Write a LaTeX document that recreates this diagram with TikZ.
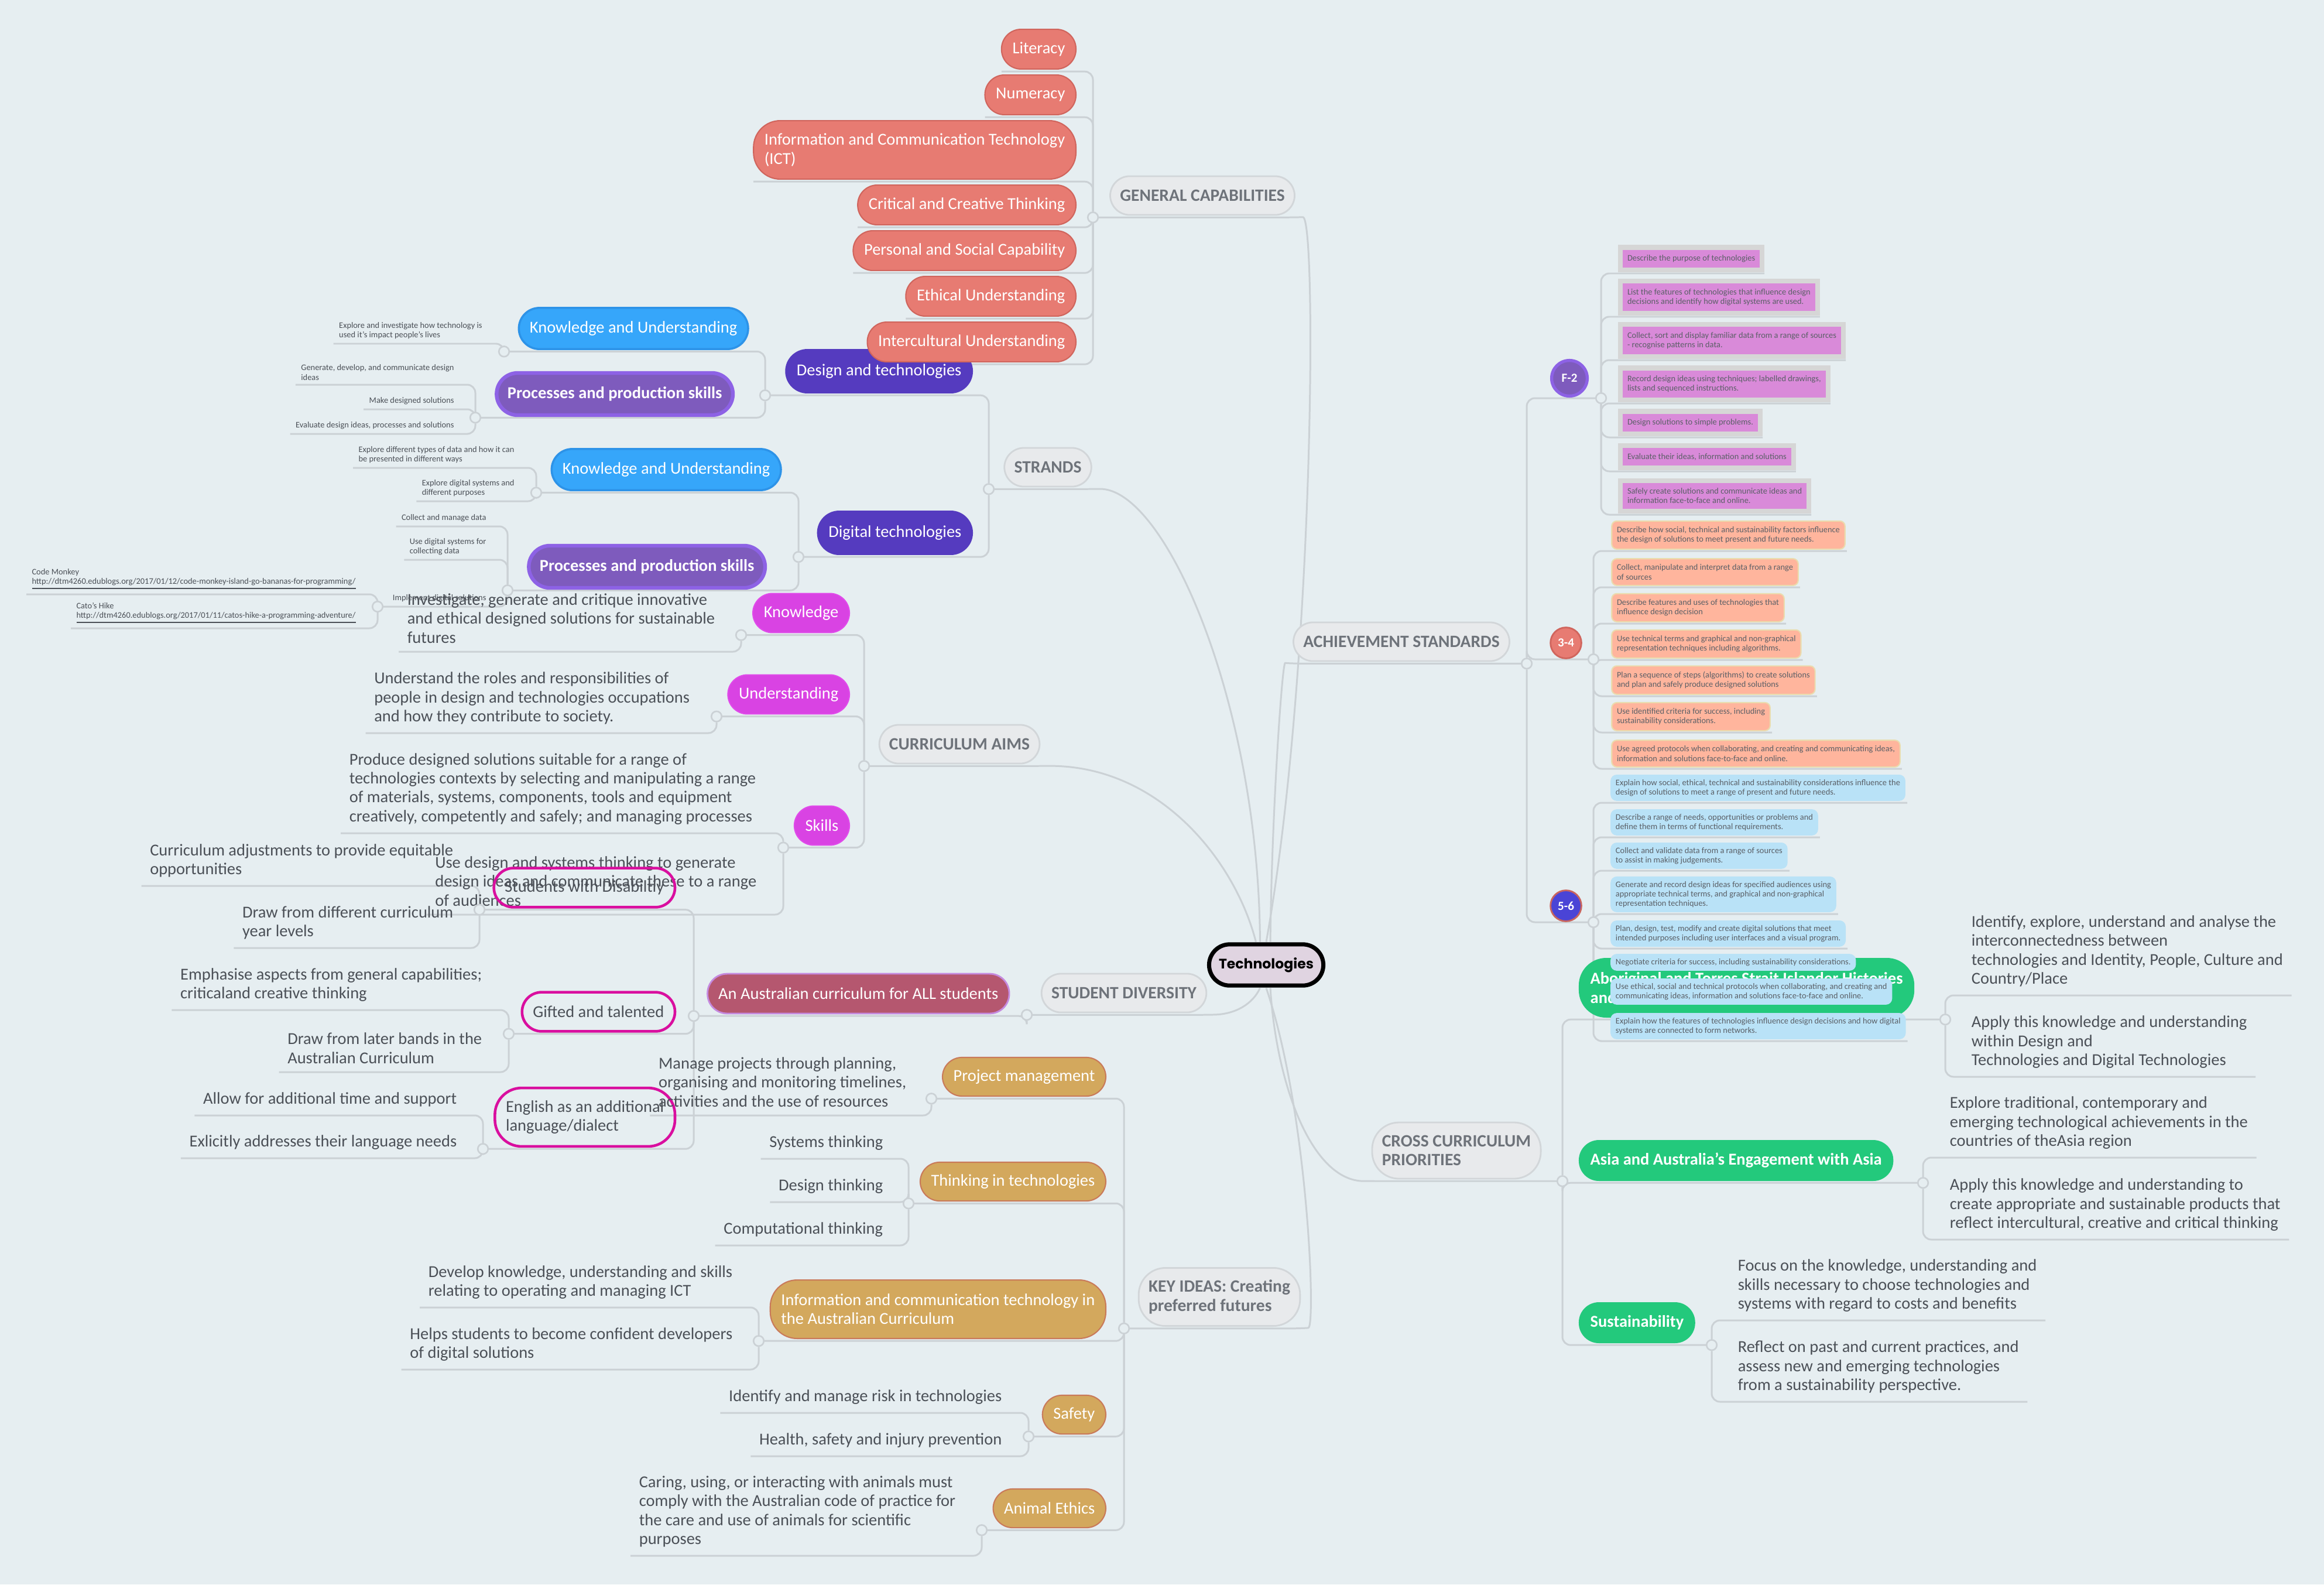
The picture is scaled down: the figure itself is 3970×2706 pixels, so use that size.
\documentclass[tikz,border=0pt]{standalone}
\usepackage{fontspec}
\setmainfont{Carlito}
\newfontfamily\rootfont{Poppins}
\usepackage{xcolor}
\usetikzlibrary{calc}
\definecolor{pagebg}{HTML}{E6EEF1}
\definecolor{linkgray}{HTML}{CBD1D5}
\definecolor{branchfill}{HTML}{E8EAEC}
\definecolor{branchline}{HTML}{D2D6D9}
\definecolor{branchtext}{HTML}{6E737A}
\definecolor{leaftext}{HTML}{4B5057}
\definecolor{achtext}{HTML}{5A5F66}
\definecolor{rootfill}{HTML}{E0D4E1}
\definecolor{capfill}{HTML}{E77B72}
\definecolor{capline}{HTML}{D0655D}
\definecolor{techfill}{HTML}{553BBF}
\definecolor{knowfill}{HTML}{36A6FA}
\definecolor{knowline}{HTML}{2D93E8}
\definecolor{procfill}{HTML}{7E5BBD}
\definecolor{procline}{HTML}{8D62E5}
\definecolor{aimfill}{HTML}{D943E3}
\definecolor{aimline}{HTML}{E04AEA}
\definecolor{allfill}{HTML}{B5576F}
\definecolor{allline}{HTML}{C58ADF}
\definecolor{needline}{HTML}{D90F9F}
\definecolor{keyfill}{HTML}{D3A85D}
\definecolor{keyline}{HTML}{C97A5A}
\definecolor{ccpfill}{HTML}{23C97C}
\definecolor{fframe}{HTML}{D6D6D6}
\definecolor{fpink}{HTML}{D98AD9}
\definecolor{tpeach}{HTML}{FFB59D}
\definecolor{tline}{HTML}{EADCAE}
\definecolor{sblue}{HTML}{B9E2F7}
\definecolor{bandblue}{HTML}{4A44D6}
\definecolor{bandline}{HTML}{C9645E}

\newcommand{\midfont}{\fontsize{8.1}{9.2}\selectfont}
\newcommand{\midbold}{\fontsize{8.1}{9.2}\selectfont\bfseries}
\newcommand{\branchfont}{\fontsize{8.4}{9.2}\selectfont\bfseries}
\newcommand{\smallfont}{\fontsize{4.1}{4.6}\selectfont}
\newcommand{\bandfont}{\fontsize{6}{7}\selectfont\bfseries}

% connectors: left / right leaves, and sub-branches ending in their own knob
\newcommand{\lleaf}[2]{\draw[link] (#1) |- (#2.south east) -- (#2.south west);}
\newcommand{\rleaf}[2]{\draw[link] (#1) |- (#2.south west) -- (#2.south east);}
\newcommand{\lsub}[3]{\draw[link] (#1) |- (#2.south east) -- (#3);}
\newcommand{\rsub}[3]{\draw[link] (#1) |- (#2.south west) -- (#3);}

\pgfdeclarelayer{background}
\pgfdeclarelayer{links}
\pgfsetlayers{background,links,main}

\tikzset{
  link/.style={draw=linkgray, line width=0.85pt, rounded corners=4pt},
  knob/.style={circle, draw=linkgray, fill=pagebg, line width=0.75pt, inner sep=0pt, minimum size=5pt},
  pill/.style={rounded corners=9.5pt, minimum height=19.3pt, inner xsep=5.3pt, inner ysep=1pt,
               outer xsep=0pt, outer ysep=1.2pt, line width=0.6pt, text=white, font=\midfont, align=left},
  twoline/.style={minimum height=28.4pt, rounded corners=13pt},
  rootbox/.style={pill, fill=rootfill, draw=black, line width=2pt, text=black,
                  font=\rootfont\bfseries\fontsize{6.7}{8}\selectfont, minimum height=20pt,
                  minimum width=55.5pt, inner xsep=4pt, rounded corners=10pt},
  branch/.style={pill, fill=branchfill, draw=branchline, line width=0.8pt, text=branchtext,
                 font=\branchfont, minimum height=18.8pt, inner xsep=4.8pt},
  capbox/.style={pill, anchor=east, fill=capfill, draw=capline},
  techbox/.style={pill, anchor=east, fill=techfill, draw=techfill, minimum height=21pt, rounded corners=10.5pt},
  knowbox/.style={pill, anchor=east, fill=knowfill, draw=knowline, line width=1pt, minimum height=20pt, rounded corners=10pt},
  procbox/.style={pill, anchor=east, fill=procfill, draw=procline, line width=1.8pt, font=\midbold,
                  minimum height=20.5pt, rounded corners=10.25pt},
  aimbox/.style={pill, anchor=east, fill=aimfill, draw=aimline, minimum height=19pt},
  allbox/.style={pill, anchor=east, fill=allfill, draw=allline, line width=0.8pt},
  needbox/.style={pill, anchor=east, draw=needline, line width=1.3pt, text=leaftext, minimum height=19pt},
  keybox/.style={pill, anchor=east, fill=keyfill, draw=keyline, minimum height=18.8pt},
  ccpbox/.style={pill, anchor=west, fill=ccpfill, draw=ccpfill, font=\midbold},
  band/.style={circle, text=white, font=\bandfont, inner sep=0pt},
  fbox/.style={anchor=south west, fill=fpink, draw=fframe, line width=2.3pt, text=achtext, font=\smallfont,
               align=left, inner xsep=3.4pt, inner ysep=3.7pt, outer xsep=1.15pt, outer ysep=1.7pt},
  tbox/.style={anchor=south west, fill=tpeach, draw=tline, line width=0.6pt, rounded corners=2.5pt,
               text=achtext, font=\smallfont, align=left, inner xsep=2.5pt, inner ysep=2.75pt, outer sep=0.9pt},
  sbox/.style={anchor=south west, fill=sblue, rounded corners=3pt, text=achtext, font=\smallfont,
               align=left, inner xsep=2.5pt, inner ysep=2.3pt, outer sep=0.9pt},
  leafL/.style={anchor=south east, align=left, text=leaftext, font=\midfont, inner xsep=4pt, inner ysep=4pt},
  leafR/.style={leafL, anchor=south west},
  tinyL/.style={leafL, font=\smallfont, inner xsep=2.5pt, inner ysep=2pt},
}

\begin{document}
\begin{tikzpicture}[x=0.01cm, y=0.01cm]
\useasboundingbox (0,0) rectangle (3970,-2706);
\begin{pgfonlayer}{background}
  \fill[pagebg] (0,0) rectangle (3970,-2706);
\end{pgfonlayer}

\node[rootbox] (tech) at (2163,-1648) {Technologies};

% ---- strands
\node[branch] (strands) at (1790,-798) {STRANDS};
\node[techbox] (dt) at (1661,-634) {Design and technologies};
\node[techbox] (dig) at (1661,-910) {Digital technologies};
\node[knowbox] (ku1) at (1278,-561) {Knowledge and Understanding};
\node[procbox] (pp1) at (1252,-673) {Processes and production skills};
\node[knowbox] (ku2) at (1334,-802) {Knowledge and Understanding};
\node[procbox] (pp2) at (1307,-968) {Processes and production skills};
\node[tinyL] (ku1a) at (833,-587) {Explore and investigate how technology is\\used it's impact people's lives};
\node[tinyL] (pp1a) at (785,-657) {Generate, develop, and communicate design\\ideas};
\node[tinyL] (pp1b) at (785,-699) {Make designed solutions};
\node[tinyL] (pp1c) at (785,-741) {Evaluate design ideas, processes and solutions};
\node[tinyL] (ku2a) at (888,-799) {Explore different types of data and how it can\\be presented in different ways};
\node[tinyL] (ku2b) at (888,-856) {Explore digital systems and\\different purposes};
\node[tinyL] (pp2a) at (840,-899) {Collect and manage data};
\node[tinyL] (pp2b) at (840,-956) {Use digital systems for\\collecting data};
\node[tinyL] (impl) at (840,-1036) {Implement digital solutions};
\node[tinyL] (monkey) at (617,-1015) {Code Monkey\\\underline{http://dtm4260.edublogs.org/2017/01/12/code-monkey-island-go-bananas-for-programming/}};
\node[tinyL] (cato) at (617,-1073) {Cato's Hike\\\underline{http://dtm4260.edublogs.org/2017/01/11/catos-hike-a-programming-adventure/}};

% ---- general capabilities
\node[branch] (gc) at (2054,-334) {GENERAL CAPABILITIES};
\node[capbox] (lit) at (1838,-84) {Literacy};
\node[capbox] (num) at (1838,-162) {Numeracy};
\node[capbox, twoline] (ict) at (1838,-256) {Information and Communication Technology\\(ICT)};
\node[capbox] (crit) at (1838,-350) {Critical and Creative Thinking};
\node[capbox] (pers) at (1838,-428) {Personal and Social Capability};
\node[capbox] (ethic) at (1838,-506) {Ethical Understanding};
\node[capbox] (inter) at (1838,-584) {Intercultural Understanding};

% ---- curriculum aims
\node[branch] (aims) at (1639,-1271) {CURRICULUM AIMS};
\node[aimbox] (know) at (1451,-1047) {Knowledge};
\node[aimbox] (under) at (1451,-1186) {Understanding};
\node[aimbox] (skills) at (1451,-1410) {Skills};
\node[leafL] (inv) at (1236,-1113) {Investigate, generate and critique innovative\\and ethical designed solutions for sustainable\\futures};
\node[leafL] (und) at (1193,-1252) {Understand the roles and responsibilities of\\people in design and technologies occupations\\and how they contribute to society.};
\node[leafL] (prod) at (1306,-1423) {Produce designed solutions suitable for a range of\\technologies contexts by selecting and manipulating a range\\of materials, systems, components, tools and equipment\\creatively, competently and safely; and managing processes};
\node[leafL] (usd) at (1307,-1562) {Use design and systems thinking to generate\\design ideas and communicate these to a range\\of audiences};

% ---- student diversity
\node[branch] (div) at (1920,-1696) {STUDENT DIVERSITY};
\node[allbox] (aus) at (1724,-1697) {An Australian curriculum for ALL students};
\node[needbox] (swd) at (1153,-1516) {Students with Disabiltiy};
\node[needbox] (gift) at (1153,-1728) {Gifted and talented};
\node[needbox, twoline] (eal) at (1153,-1908) {English as an additional\\language/dialect};
\node[leafL] (swda) at (789,-1513) {Curriculum adjustments to provide equitable\\opportunities};
\node[leafL] (swdb) at (789,-1619) {Draw from different curriculum\\year levels};
\node[leafL] (gifa) at (838,-1725) {Emphasise aspects from general capabilities;\\criticaland creative thinking};
\node[leafL] (gifb) at (838,-1831) {Draw from later bands in the\\Australian Curriculum};
\node[leafL] (eala) at (795,-1905) {Allow for additional time and support};
\node[leafL] (ealb) at (795,-1978) {Exlicitly addresses their language needs};

% ---- key ideas
\node[branch, minimum height=28.2pt, rounded corners=13pt] (keys) at (2083,-2215) {KEY IDEAS: Creating\\preferred futures};
\node[keybox] (proj) at (1889,-1839) {Project management};
\node[keybox] (think) at (1889,-2018) {Thinking in technologies};
\node[keybox, twoline] (ictc) at (1889,-2236) {Information and communication technology in\\the Australian Curriculum};
\node[keybox] (safety) at (1889,-2416) {Safety};
\node[keybox] (animal) at (1889,-2576) {Animal Ethics};
\node[leafL] (proja) at (1563,-1905) {Manage projects through planning,\\organising and monitoring timelines,\\activities and the use of resources};
\node[leafL] (thka) at (1523,-1979) {Systems thinking};
\node[leafL] (thkb) at (1523,-2053) {Design thinking};
\node[leafL] (thkc) at (1523,-2127) {Computational thinking};
\node[leafL] (ictca) at (1266,-2233) {Develop knowledge, understanding and skills\\relating to operating and managing ICT};
\node[leafL] (ictcb) at (1266,-2339) {Helps students to become confident developers\\of digital solutions};
\node[leafL] (safa) at (1726,-2413) {Identify and manage risk in technologies};
\node[leafL] (safb) at (1726,-2487) {Health, safety and injury prevention};
\node[leafL] (anima) at (1647,-2657) {Caring, using, or interacting with animals must\\comply with the Australian code of practice for\\the care and use of animals for scientific\\purposes};

% ---- cross curriculum priorities
\node[branch, minimum height=27.3pt, rounded corners=13pt] (cross) at (2488,-1965) {CROSS CURRICULUM\\PRIORITIES};
\node[ccpbox, twoline] (abor) at (2698,-1687) {Aboriginal and Torres Strait Islander Histories\\and Cultures};
\node[ccpbox] (asia) at (2698,-1982) {Asia and Australia’s Engagement with Asia};
\node[ccpbox] (sust) at (2698,-2259) {Sustainability};
\node[leafR] (abora) at (3353,-1700) {Identify, explore, understand and analyse the\\interconnectedness between\\technologies and Identity, People, Culture and\\Country/Place};
\node[leafR] (aborb) at (3353,-1839) {Apply this knowledge and understanding\\within Design and\\Technologies and Digital Technologies};
\node[leafR] (asiaa) at (3316,-1977) {Explore traditional, contemporary and\\emerging technological achievements in the\\countries of theAsia region};
\node[leafR] (asiab) at (3316,-2117) {Apply this knowledge and understanding to\\create appropriate and sustainable products that\\reflect intercultural, creative and critical thinking};
\node[leafR] (susta) at (2954,-2255) {Focus on the knowledge, understanding and\\skills necessary to choose technologies and\\systems with regard to costs and benefits};
\node[leafR] (sustb) at (2954,-2394) {Reflect on past and current practices, and\\assess new and emerging technologies\\from a sustainability perspective.};

% ---- achievement standards
\node[branch] (ach) at (2394,-1096) {ACHIEVEMENT STANDARDS};
\node[band, fill=procfill, draw=procline, line width=1.5pt, minimum size=17.3pt] (f2) at (2681,-646) {F-2};
\node[band, fill=capfill, draw=capline, line width=0.8pt, minimum size=15pt] (t34) at (2675,-1098) {3-4};
\node[band, fill=bandblue, draw=bandline, line width=0.8pt, minimum size=15pt] (f56) at (2675,-1547) {5-6};
\coordinate (f2u) at (2645,-680);
\coordinate (t34u) at (2645,-1126);
\coordinate (f56u) at (2645,-1575);
\node[fbox] (fa) at (2764,-467) {Describe the purpose of technologies};
\node[fbox] (fb) at (2764,-541) {List the features of technologies that influence design\\decisions and identify how digital systems are used.};
\node[fbox] (fc) at (2764,-615) {Collect, sort and display familiar data from a range of sources\\- recognise patterns in data.};
\node[fbox] (fd) at (2764,-689) {Record design ideas using techniques; labelled drawings,\\lists and sequenced instructions.};
\node[fbox] (fe) at (2764,-747) {Design solutions to simple problems.};
\node[fbox] (ff) at (2764,-805) {Evaluate their ideas, information and solutions};
\node[fbox] (fg) at (2764,-879) {Safely create solutions and communicate ideas and\\information face-to-face and online.};
\node[tbox] (ta) at (2750,-941) {Describe how social, technical and sustainability factors influence\\the design of solutions to meet present and future needs.};
\node[tbox] (tb) at (2750,-1003) {Collect, manipulate and interpret data from a range\\of sources};
\node[tbox] (tc) at (2750,-1065) {Describe features and uses of technologies that\\influence design decision};
\node[tbox] (td) at (2750,-1127) {Use technical terms and graphical and non-graphical\\representation techniques including algorithms.};
\node[tbox] (te) at (2750,-1189) {Plan a sequence of steps (algorithms) to create solutions\\and plan and safely produce designed solutions};
\node[tbox] (tf) at (2750,-1251) {Use identified criteria for success, including\\sustainability considerations.};
\node[tbox] (tg) at (2750,-1313) {Use agreed protocols when collaborating, and creating and communicating ideas,\\information and solutions face-to-face and online.};
\node[sbox] (sa) at (2748,-1371) {Explain how social, ethical, technical and sustainability considerations influence the\\design of solutions to meet a range of present and future needs.};
\node[sbox] (sb) at (2748,-1430) {Describe a range of needs, opportunities or problems and\\define them in terms of functional requirements.};
\node[sbox] (sc) at (2748,-1487) {Collect and validate data from a range of sources\\to assist in making judgements.};
\node[sbox] (sd) at (2748,-1561) {Generate and record design ideas for specified audiences using\\appropriate technical terms, and graphical and non-graphical\\representation techniques.};
\node[sbox] (se) at (2748,-1620) {Plan, design, test, modify and create digital solutions that meet\\intended purposes including user interfaces and a visual program.};
\node[sbox] (sf) at (2748,-1661) {Negotiate criteria for success, including sustainability considerations.};
\node[sbox] (sg) at (2748,-1719) {Use ethical, social and technical protocols when collaborating, and creating and\\communicating ideas, information and solutions face-to-face and online.};
\node[sbox] (sh) at (2748,-1778) {Explain how the features of technologies influence design decisions and how digital\\systems are connected to form networks.};

% ---- knobs
\node[knob] (jgc) at (gc.south west -| 1867,0) {};
\node[knob] (jstrands) at (strands.south west -| 1689,0) {};
\node[knob] (jdt) at (dt.south west -| 1307,0) {};
\node[knob] (jdig) at (dig.south west -| 1364,0) {};
\node[knob] (jku1) at (ku1.south west -| 861,0) {};
\node[knob] (jpp1) at (pp1.south west -| 812,0) {};
\node[knob] (jku2) at (ku2.south west -| 916,0) {};
\node[knob] (jpp2) at (pp2.south west -| 867,0) {};
\node[knob] (jimpl) at (impl.south west -| 645,0) {};
\node[knob] (jaims) at (aims.south west -| 1476,0) {};
\node[knob] (jknow) at (know.south west -| 1266,0) {};
\node[knob] (jund) at (under.south west -| 1224,0) {};
\node[knob] (jskills) at (skills.south west -| 1338,0) {};
\node[knob] (jdiv) at (div.south west -| 1754,0) {};
\node[knob] (jaus) at (aus.south west -| 1185,0) {};
\node[knob] (jswd) at (swd.south west -| 819,0) {};
\node[knob] (jgift) at (gift.south west -| 869,0) {};
\node[knob] (jeal) at (eal.south west -| 825,0) {};
\node[knob] (jkeys) at (keys.south west -| 1920,0) {};
\node[knob] (jproj) at (proj.south west -| 1591,0) {};
\node[knob] (jthink) at (think.south west -| 1552,0) {};
\node[knob] (jictc) at (ictc.south west -| 1296,0) {};
\node[knob] (jsafety) at (safety.south west -| 1757,0) {};
\node[knob] (janimal) at (animal.south west -| 1677,0) {};
\node[knob] (jach) at (ach.south east -| 2608,0) {};
\node[knob] (jf2) at (2735,-680) {};
\node[knob] (jt34) at (2722,-1126) {};
\node[knob] (jf56) at (2722,-1575) {};
\node[knob] (jcross) at (cross.south east -| 2669,0) {};
\node[knob] (jabor) at (abor.south east -| 3323,0) {};
\node[knob] (jasia) at (asia.south east -| 3285,0) {};
\node[knob] (jsust) at (sust.south east -| 2924,0) {};

\begin{pgfonlayer}{links}
% root to main branches
\draw[link] (jgc) -- (gc.south east) .. controls (2250,-370) and (2245,-1150) .. (tech.north);
\draw[link] (jstrands) -- (strands.south east) .. controls (1990,-833) and (2150,-1200) .. ([xshift=-3pt]tech.north);
\draw[link] (jaims) -- (aims.south east) .. controls (1980,-1306) and (2110,-1470) .. ([xshift=-5pt]tech.north);
\draw[link] (jach) -- (ach.south west) .. controls (2190,-1132) and (2172,-1400) .. ([xshift=2pt]tech.north);
\draw[link] (jdiv) -- (div.south east) .. controls (2110,-1732) and (2140,-1715) .. ([xshift=-3pt]tech.south);
\draw[link] (jkeys) -- (keys.south east) .. controls (2248,-2267) and (2235,-1900) .. (tech.south);
\draw[link] (jcross) -- (cross.south west) .. controls (2240,-2017) and (2180,-1850) .. ([xshift=2pt]tech.south);

% general capabilities
\lleaf{jgc}{lit} \lleaf{jgc}{num} \lleaf{jgc}{ict} \lleaf{jgc}{crit}
\lleaf{jgc}{pers} \lleaf{jgc}{ethic} \lleaf{jgc}{inter}

% strands
\lsub{jstrands}{dt}{jdt} \lsub{jstrands}{dig}{jdig}
\lsub{jdt}{ku1}{jku1} \lsub{jdt}{pp1}{jpp1}
\lleaf{jku1}{ku1a}
\lleaf{jpp1}{pp1a} \lleaf{jpp1}{pp1b} \lleaf{jpp1}{pp1c}
\lsub{jdig}{ku2}{jku2} \lsub{jdig}{pp2}{jpp2}
\lleaf{jku2}{ku2a} \lleaf{jku2}{ku2b}
\lleaf{jpp2}{pp2a} \lleaf{jpp2}{pp2b}
\lsub{jpp2}{impl}{jimpl}
\lleaf{jimpl}{monkey} \lleaf{jimpl}{cato}

% curriculum aims
\lsub{jaims}{know}{jknow} \lsub{jaims}{under}{jund} \lsub{jaims}{skills}{jskills}
\lleaf{jknow}{inv} \lleaf{jund}{und}
\lleaf{jskills}{prod} \lleaf{jskills}{usd}

% student diversity
\lsub{jdiv}{aus}{jaus}
\lsub{jaus}{swd}{jswd} \lsub{jaus}{gift}{jgift} \lsub{jaus}{eal}{jeal}
\lleaf{jswd}{swda} \lleaf{jswd}{swdb}
\lleaf{jgift}{gifa} \lleaf{jgift}{gifb}
\lleaf{jeal}{eala} \lleaf{jeal}{ealb}

% key ideas
\lsub{jkeys}{proj}{jproj} \lsub{jkeys}{think}{jthink} \lsub{jkeys}{ictc}{jictc}
\lsub{jkeys}{safety}{jsafety} \lsub{jkeys}{animal}{janimal}
\lleaf{jproj}{proja}
\lleaf{jthink}{thka} \lleaf{jthink}{thkb} \lleaf{jthink}{thkc}
\lleaf{jictc}{ictca} \lleaf{jictc}{ictcb}
\lleaf{jsafety}{safa} \lleaf{jsafety}{safb}
\lleaf{janimal}{anima}

% achievement standards
\draw[link] (jach) |- (f2u) -- (jf2);
\draw[link] (jach) |- (t34u) -- (jt34);
\draw[link] (jach) |- (f56u) -- (jf56);
\rleaf{jf2}{fa} \rleaf{jf2}{fb} \rleaf{jf2}{fc} \rleaf{jf2}{fd}
\rleaf{jf2}{fe} \rleaf{jf2}{ff} \rleaf{jf2}{fg}
\rleaf{jt34}{ta} \rleaf{jt34}{tb} \rleaf{jt34}{tc} \rleaf{jt34}{td}
\rleaf{jt34}{te} \rleaf{jt34}{tf} \rleaf{jt34}{tg}
\rleaf{jf56}{sa} \rleaf{jf56}{sb} \rleaf{jf56}{sc} \rleaf{jf56}{sd}
\rleaf{jf56}{se} \rleaf{jf56}{sf} \rleaf{jf56}{sg} \rleaf{jf56}{sh}

% cross curriculum priorities
\rsub{jcross}{abor}{jabor} \rsub{jcross}{asia}{jasia} \rsub{jcross}{sust}{jsust}
\rleaf{jabor}{abora} \rleaf{jabor}{aborb}
\rleaf{jasia}{asiaa} \rleaf{jasia}{asiab}
\rleaf{jsust}{susta} \rleaf{jsust}{sustb}
\end{pgfonlayer}
\end{tikzpicture}
\end{document}
